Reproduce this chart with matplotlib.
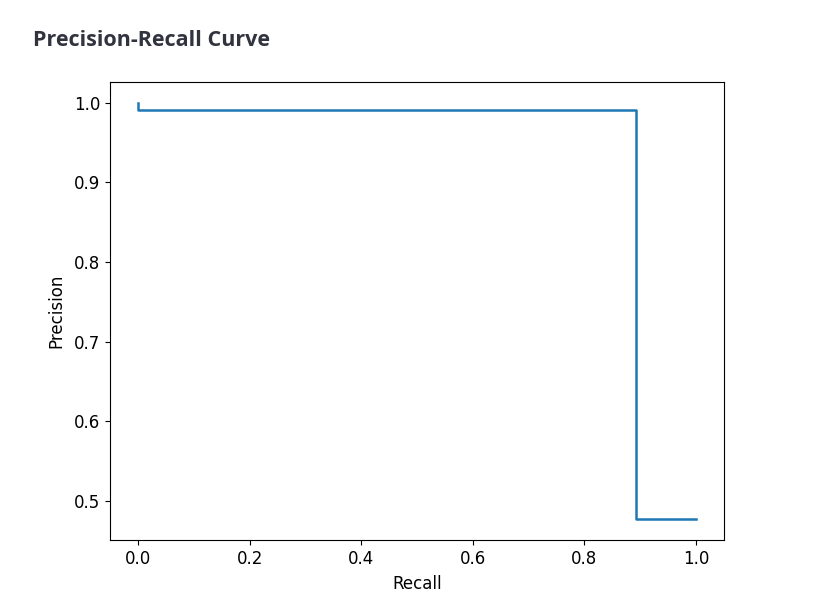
import matplotlib
matplotlib.use("Agg")
import matplotlib.pyplot as plt

recall = [0.0, 0.0, 0.893, 0.893, 1.0]
precision = [1.0, 0.991, 0.991, 0.477, 0.477]

plt.rcParams["font.size"] = 12
fig = plt.figure(figsize=(8.18, 6.14), dpi=100)
ax = fig.add_axes([0.1345, 0.1205, 0.7506, 0.7459])
ax.plot(recall, precision, color="#1f77b4", linewidth=1.8)
ax.set_xlabel("Recall", labelpad=5)
ax.set_ylabel("Precision", labelpad=6)
ax.set_xticks([0.0, 0.2, 0.4, 0.6, 0.8, 1.0])
ax.set_yticks([0.5, 0.6, 0.7, 0.8, 0.9, 1.0])
fig.text(33/818, 1-40/614, "Precision-Recall Curve", fontsize=15.5, fontweight="bold",
         color="#31333F", va="center", ha="left", family="Open Sans")
fig.savefig("out.png", dpi=100)
